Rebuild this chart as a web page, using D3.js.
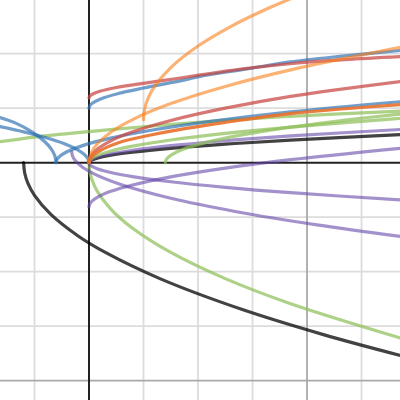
<!DOCTYPE html>
<html>
<head>
<meta charset="utf-8">
<script src="https://cdn.jsdelivr.net/npm/d3@7"></script>
<style>
html,body{margin:0;padding:0;background:#fff;}
svg{display:block;}
</style>
</head>
<body>
<svg id="chart" width="400" height="400"></svg>
<script>
// ---- data (graph units) ----
const xDomain = [-1.633, 5.706];
const yDomain = [-4.354, 2.985];
const xMinorTicks = [-1, 1, 2, 3, 5];
const yMinorTicks = [-3, -2, -1, 1, 2, 3];
const xMajorTicks = [4];
const yMajorTicks = [-4];

const blackLower = [[-1.2,0],[-1.18,-0.19],[-1.12,-0.38],[-1.0,-0.6],[-0.7,-0.95],[-0.2,-1.345],[0.3,-1.647],[1.3,-2.127],[2.8,-2.69],[4.3,-3.154],[5.72,-3.538]];
const greenDown = [[0,0],[0.01,-0.135],[0.05,-0.301],[0.15,-0.521],[0.4,-0.851],[0.8,-1.203],[1.5,-1.647],[2.5,-2.127],[3.7,-2.587],[5.72,-3.217]];
const purpleLow = [[-0.317,0.2],[-0.302,0.123],[-0.257,0.045],[-0.117,-0.083],[0.133,-0.224],[0.583,-0.4],[1.483,-0.648],[2.683,-0.895],[4.183,-1.141],[5.723,-1.353]];
const purpleDown = [[0,0],[0.01,-0.029],[0.05,-0.064],[0.15,-0.111],[0.4,-0.181],[0.8,-0.256],[1.5,-0.35],[2.5,-0.452],[3.7,-0.55],[5.72,-0.684]];
const purpleRise = [[0,-0.81],[0.01,-0.765],[0.05,-0.709],[0.15,-0.636],[0.4,-0.526],[0.8,-0.408],[1.5,-0.259],[2.5,-0.099],[3.7,0.056],[5.72,0.266]];
const blackUpper = [[0,0],[0.01,0.022],[0.05,0.048],[0.15,0.083],[0.4,0.136],[0.8,0.192],[1.5,0.263],[2.5,0.34],[3.7,0.414],[5.72,0.514]];
const purpleUpper = [[0,0],[0.01,0.026],[0.05,0.057],[0.15,0.099],[0.4,0.161],[0.8,0.228],[1.5,0.312],[2.5,0.403],[3.7,0.491],[5.72,0.61]];
const greenOrigin = [[0,0],[0.01,0.034],[0.05,0.076],[0.15,0.132],[0.4,0.215],[0.8,0.304],[1.5,0.416],[2.5,0.538],[3.7,0.654],[5.72,0.813]];
const greenShift = [[1.4,0],[1.415,0.053],[1.46,0.105],[1.6,0.192],[1.9,0.304],[2.5,0.451],[3.7,0.652],[4.7,0.781],[5.72,0.894]];
const greenLong = [[-1.635,0.385],[-1,0.47],[0,0.57],[1,0.66],[1.76,0.72],[2.7,0.79],[3.69,0.85],[4.7,0.9],[5.72,0.945]];
const blueLeft = [[-1.635,0.661],[-1.2,0.566],[-0.8,0.462],[-0.45,0.347],[-0.2,0.231],[-0.08,0.146],[-0.02,0.073],[0,0]];
const blueCuspLeft = [[-0.605,0],[-0.625,0.12],[-0.685,0.24],[-0.805,0.38],[-1.055,0.57],[-1.355,0.73],[-1.635,0.83]];
const blueCuspRight = [[-0.605,0],[-0.585,0.064],[-0.525,0.127],[-0.405,0.201],[-0.105,0.318],[0.395,0.45],[1.195,0.604],[2.195,0.753],[3.695,0.933],[5.725,1.12]];
const blueTop = [[0,1.0],[0.015,1.045],[0.06,1.09],[0.2,1.165],[0.54,1.27],[1.0,1.37],[1.76,1.52],[2.04,1.585],[2.9,1.72],[3.69,1.85],[4.7,1.96],[5.72,2.06]];
const redTop = [[0,1.19],[0.015,1.223],[0.06,1.256],[0.2,1.31],[0.5,1.38],[1.03,1.46],[1.58,1.54],[2.04,1.61],[2.9,1.73],[3.69,1.815],[4.7,1.89],[5.72,1.945]];
const redOrigin = [[0,0],[0.01,0.063],[0.05,0.142],[0.15,0.245],[0.4,0.4],[0.8,0.566],[1.5,0.775],[2.5,1.001],[3.7,1.218],[5.72,1.49]];
const orangeOrigin = [[0,0],[0.01,0.089],[0.05,0.198],[0.15,0.343],[0.4,0.559],[0.8,0.791],[1.5,1.084],[2.5,1.399],[3.7,1.703],[5.72,2.117]];
const orangeSteep = [[1.0,0.79],[1.02,0.981],[1.08,1.172],[1.2,1.394],[1.5,1.745],[2.0,2.14],[2.6,2.498],[3.3,2.837],[3.8,3.049]];
const darkOrange = [[0,0],[0.01,0.05],[0.05,0.11],[0.15,0.19],[0.54,0.365],[1.0,0.48],[1.76,0.625],[2.5,0.74],[3.69,0.9],[4.7,0.99],[5.72,1.065]];

// ---- styles ----
const BLACK = {c:"#000000", o:0.74};
const GREEN = {c:"#8fbf5a", o:0.72};
const PURPLE = {c:"#6042a6", o:0.58};
const BLUE = {c:"#2d70b3", o:0.68};
const RED = {c:"#c74440", o:0.72};
const ORANGE = {c:"#fa7e19", o:0.6};
const DORANGE = {c:"#e8702a", o:0.9};

const layers = [
  [blackLower, BLACK], [greenDown, GREEN], [purpleLow, PURPLE], [purpleDown, PURPLE],
  [purpleRise, PURPLE], [blackUpper, BLACK], [purpleUpper, PURPLE], [greenOrigin, GREEN],
  [greenShift, GREEN], [greenLong, GREEN], [blueLeft, BLUE], [blueCuspLeft, BLUE],
  [blueCuspRight, BLUE], [blueTop, BLUE], [redTop, RED], [redOrigin, RED],
  [orangeOrigin, ORANGE], [orangeSteep, ORANGE], [darkOrange, DORANGE]
];

const W = 400, H = 400;
const svg = d3.select("#chart");
const x = d3.scaleLinear().domain(xDomain).range([0, W]);
const y = d3.scaleLinear().domain(yDomain).range([H, 0]);

svg.append("rect").attr("width", W).attr("height", H).attr("fill", "#fff");

const grid = svg.append("g");
grid.selectAll(".vx").data(xMinorTicks).join("line")
  .attr("x1", d => x(d)).attr("x2", d => x(d)).attr("y1", 0).attr("y2", H)
  .attr("stroke", "#dcdcdc").attr("stroke-width", 1.8);
grid.selectAll(".hy").data(yMinorTicks).join("line")
  .attr("y1", d => y(d)).attr("y2", d => y(d)).attr("x1", 0).attr("x2", W)
  .attr("stroke", "#dcdcdc").attr("stroke-width", 1.8);
grid.selectAll(".mx").data(xMajorTicks).join("line")
  .attr("x1", d => x(d)).attr("x2", d => x(d)).attr("y1", 0).attr("y2", H)
  .attr("stroke", "#a9a9a9").attr("stroke-width", 1.8);
grid.selectAll(".my").data(yMajorTicks).join("line")
  .attr("y1", d => y(d)).attr("y2", d => y(d)).attr("x1", 0).attr("x2", W)
  .attr("stroke", "#a9a9a9").attr("stroke-width", 1.8);

// axes
svg.append("line").attr("x1", x(0)).attr("x2", x(0)).attr("y1", 0).attr("y2", H)
  .attr("stroke", "#222").attr("stroke-width", 2);
svg.append("line").attr("y1", y(0)).attr("y2", y(0)).attr("x1", 0).attr("x2", W)
  .attr("stroke", "#222").attr("stroke-width", 2);

const line = d3.line().x(d => x(d[0])).y(d => y(d[1])).curve(d3.curveCatmullRom.alpha(0.5));

svg.append("g").selectAll("path").data(layers).join("path")
  .attr("d", d => line(d[0]))
  .attr("fill", "none")
  .attr("stroke", d => d[1].c)
  .attr("stroke-opacity", d => d[1].o)
  .attr("stroke-width", 3.2)
  .attr("stroke-linecap", "round")
  .attr("stroke-linejoin", "round");
</script>
</body>
</html>
